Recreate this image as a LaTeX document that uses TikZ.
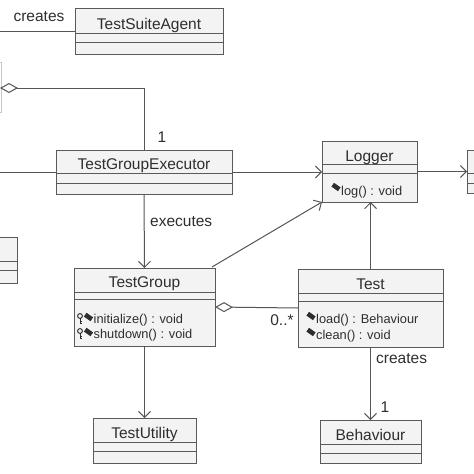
\documentclass[tikz,border=0pt]{standalone}
\usepackage{fontspec}
\setmainfont{Liberation Sans}
\usetikzlibrary{arrows.meta,calc}
\definecolor{boxfill}{HTML}{F3F3F3}
\definecolor{edgec}{HTML}{5A5A5A}
\definecolor{linec}{HTML}{555555}
\definecolor{txt}{HTML}{2E2E2E}
\definecolor{faint}{HTML}{C8C8C8}
\tikzset{
  clsbox/.style={draw=edgec, fill=boxfill, line width=1pt, rectangle, inner sep=0pt, outer sep=0pt},
  cmpline/.style={draw=edgec, line width=1pt},
  nametxt/.style={text=txt, font=\fontsize{15.5}{17}\selectfont, inner sep=0pt, anchor=base},
  optxt/.style={text=txt, font=\fontsize{12.8}{14}\selectfont, inner sep=0pt, anchor=base west},
  lbl/.style={text=txt, font=\fontsize{15.5}{17}\selectfont, inner sep=0pt},
  conn/.style={draw=linec, line width=1pt},
  openarrow/.style={-{Straight Barb[length=6pt,width=12pt,line width=1pt]}},
  aggr/.style={{Diamond[open,length=18pt,width=10pt,line width=1pt]}-},
  opic/.pic={\fill[txt, rotate=-35] (-4,-2.3) rectangle (4,2.3);},
  keyic/.pic={\draw[txt, line width=1pt] (0,-2) circle (2.4);
              \draw[txt, line width=1pt] (0,0.4) -- (0,6) (0,3.6) -- (2,3.6) (0,5.6) -- (2,5.6);},
}
\newcommand\umlclass[7]{%
  \node[clsbox, minimum width=#4pt, minimum height=#5pt, anchor=north west] (#1) at (#2,#3) {};
  \draw[cmpline] ($(#1.north west)+(0,#6)$) -- ($(#1.north east)+(0,#6)$);
  \draw[cmpline] ($(#1.north west)+(0,#7)$) -- ($(#1.north east)+(0,#7)$);
}
\begin{document}
\begin{tikzpicture}[x=1pt,y=-1pt]
\useasboundingbox[fill=white] (0,0) rectangle (474,474);
\clip (0,0) rectangle (474,474);

% partial boxes at the edges
\node[draw=faint, line width=0.8pt, minimum width=31pt, minimum height=50pt, anchor=north west, inner sep=0pt] (tl) at (-30,62) {};
\umlclass{lb}{-20}{237}{37}{46}{24}{33}
\umlclass{rb}{467}{150}{40}{43}{23}{33}

% classes
\umlclass{tsa}{75}{8}{148}{46}{25}{34}
\node[nametxt] (tsat) at ($(tsa.north)+(0,21)$) {TestSuiteAgent};

\umlclass{tge}{56}{150}{176}{44}{23}{33}
\node[nametxt] (tget) at ($(tge.north)+(0,19)$) {TestGroupExecutor};

\umlclass{lg}{322}{141}{95}{61}{23}{32}
\node[nametxt] (lgt) at ($(lg.north)+(0,20)$) {Logger};
\pic at (336,187) {opic};
\node[optxt] (lgo) at (341,195) {log() : void};

\umlclass{tg}{74}{268}{141}{78}{24}{31}
\node[nametxt] (tgt) at ($(tg.north)+(0,19)$) {TestGroup};
\pic at (80,318) {keyic};
\pic at (88.5,317) {opic};
\node[optxt] (tgo1) at (93.5,323.5) {initialize() : void};
\pic at (80,333) {keyic};
\pic at (88.5,332) {opic};
\node[optxt] (tgo2) at (93.5,338.5) {shutdown() : void};

\umlclass{ts}{298}{269}{145}{78}{24}{32}
\node[nametxt] (tst) at ($(ts.north)+(0,20)$) {Test};
\pic at (311,316) {opic};
\node[optxt] (tso1) at (316,323.5) {load() : Behaviour};
\pic at (311,332) {opic};
\node[optxt] (tso2) at (316,339.5) {clean() : void};

\umlclass{tu}{93}{418}{103}{45}{24}{33}
\node[nametxt] (tut) at ($(tu.north)+(0,20)$) {TestUtility};

\umlclass{bh}{320}{420}{101}{43}{24}{33}
\node[nametxt] (bht) at ($(bh.north)+(0,20)$) {Behaviour};

% connectors
\coordinate (cl) at (0,31);
\draw[conn] (cl) -- (cl -| tsa.west);
\node[lbl] (cr1) at (39,17) {creates};

\coordinate (ag) at (0,88);
\draw[conn, aggr] (ag) -- (ag -| tge.north) -- (tge.north);
\node[lbl] (m1) at (162,137) {1};

\coordinate (tgl) at (0,172);
\draw[conn] (tgl) -- (tge.west);
\draw[conn, openarrow] (tge.east) -- (tge.east -| lg.west);
\draw[conn, openarrow] (lg.east |- rb.west) -- (rb.west);

\draw[conn, openarrow] (tge.south) -- (tg.north);
\node[lbl, anchor=west] (ex) at (150,222) {executes};

\draw[conn, openarrow] ($(tg.north east)+(-3,-1)$) -- (lg.south west);
\draw[conn, openarrow] (ts.north) -- (ts.north |- lg.south);

\draw[conn, aggr] (tg.east) -- (ts.west);
\node[lbl] (m0) at (282,320) {0..*};

\draw[conn, openarrow] (tg.south) -- (tu.north);
\draw[conn, openarrow] (ts.south) -- (ts.south |- bh.north);
\node[lbl, anchor=west] (cr2) at (376,359) {creates};
\node[lbl] (m2) at (385,407) {1};
\end{tikzpicture}
\end{document}
